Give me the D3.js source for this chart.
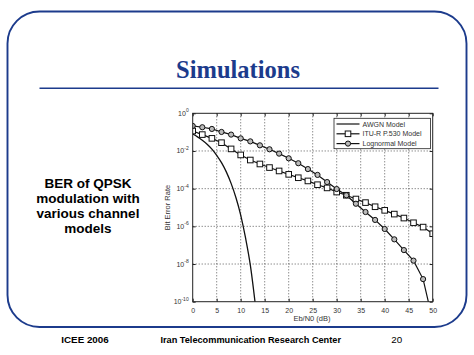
<!DOCTYPE html>
<html><head><meta charset="utf-8">
<script src="https://cdn.jsdelivr.net/npm/d3@7"></script>
<style>html,body{margin:0;padding:0;background:#fff;}svg{display:block;}</style>
</head><body>
<script>
// ---- data (log10 of BER) ----
const xTicks = [0,5,10,15,20,25,30,35,40,45,50];
const yTickExp = [0,-2,-4,-6,-8,-10];
const awgnX = [0,1,2,3,4,5,6,7,8,9,10,11,12,13];
const awgnLog = [-1.10,-1.25,-1.43,-1.64,-1.90,-2.23,-2.62,-3.11,-3.72,-4.47,-5.40,-6.60,-8.05,-10.05];
const ebX = [0,2,4,6,8,10,12,14,16,18,20,22,24,26,28,30,32,34,36,38,40,42,44,46,48,50];
const ituLog = [-0.94,-1.13,-1.33,-1.56,-1.89,-2.21,-2.48,-2.69,-2.88,-3.06,-3.24,-3.42,-3.59,-3.79,-3.96,-4.18,-4.35,-4.55,-4.74,-4.96,-5.15,-5.35,-5.56,-5.81,-6.04,-6.39];
const logn = [-0.67,-0.74,-0.83,-0.99,-1.13,-1.33,-1.49,-1.70,-1.91,-2.14,-2.39,-2.65,-2.96,-3.27,-3.65,-4.02,-4.35,-4.80,-5.24,-5.66,-6.14,-6.69,-7.26,-7.82,-8.80,-11.0];
const legendLabels = ["AWGN Model","ITU-R P.530 Model","Lognormal Model"];
const leftText = ["BER of QPSK","modulation with","various channel","models"];

const W=474,H=355;
const svg=d3.select("body").append("svg").attr("width",W).attr("height",H);
const blue="#1c3b8c";

// slide frame
svg.append("rect").attr("x",7.5).attr("y",11.5).attr("width",459).attr("height",315.5)
  .attr("rx",32).attr("ry",32).attr("fill","none").attr("stroke",blue).attr("stroke-width",1.9);
svg.append("text").attr("x",238).attr("y",78).attr("text-anchor","middle")
  .attr("font-family","Liberation Serif, Times New Roman, serif").attr("font-weight","bold")
  .attr("font-size",24.5).attr("fill",blue).text("Simulations");
svg.append("line").attr("x1",39.5).attr("x2",438.5).attr("y1",88.3).attr("y2",88.3)
  .attr("stroke",blue).attr("stroke-width",1.5);

// left text
svg.append("g").selectAll("text").data(leftText).join("text")
  .attr("x",88).attr("y",(d,i)=>188.3+i*15).attr("text-anchor","middle")
  .attr("font-family","Liberation Sans, Arial, sans-serif").attr("font-weight","bold")
  .attr("font-size",13.5).attr("fill","#000").text(d=>d);

// footer
const ff="Liberation Sans, Arial, sans-serif";
svg.append("text").attr("x",85).attr("y",343).attr("text-anchor","middle").attr("font-family",ff)
  .attr("font-weight","bold").attr("font-size",9.8).text("ICEE 2006");
svg.append("text").attr("x",250.7).attr("y",343).attr("text-anchor","middle").attr("font-family",ff)
  .attr("font-weight","bold").attr("font-size",9.2).text("Iran Telecommunication Research Center");
svg.append("text").attr("x",396.7).attr("y",343).attr("text-anchor","middle").attr("font-family",ff)
  .attr("font-size",9.8).text("20");

// plot
const L=192.7,R=432.7,T=113.3,B=301.7;
const x=d3.scaleLinear().domain([0,50]).range([L,R]);
const y=d3.scaleLinear().domain([-10,0]).range([B,T]);
const g=svg.append("g");
g.append("rect").attr("x",L).attr("y",T).attr("width",R-L).attr("height",B-T).attr("fill","#fff");

// grid
g.append("g").selectAll("line").data(xTicks.slice(1,-1)).join("line")
  .attr("x1",d=>x(d)).attr("x2",d=>x(d)).attr("y1",T).attr("y2",B)
  .attr("stroke","#333").attr("stroke-width",0.8).attr("stroke-dasharray","1,2");
g.append("g").selectAll("line").data(yTickExp.slice(1,-1)).join("line")
  .attr("y1",d=>y(d)).attr("y2",d=>y(d)).attr("x1",L).attr("x2",R)
  .attr("stroke","#333").attr("stroke-width",0.8).attr("stroke-dasharray","1,2");

// axes (inward ticks)
const axB=d3.axisBottom(x).tickValues(xTicks).tickSize(-3).tickPadding(6).tickFormat(d3.format("d"));
const axT=d3.axisTop(x).tickValues(xTicks).tickSize(-3).tickFormat("");
const axL=d3.axisLeft(y).tickValues(yTickExp).tickSize(-3).tickFormat("");
const axR=d3.axisRight(y).tickValues(yTickExp).tickSize(-3).tickFormat("");
function styleAx(sel){sel.select(".domain").remove();sel.selectAll("line").attr("stroke","#222");
  sel.selectAll("text").attr("font-family",ff).attr("font-size",7).attr("fill","#333");}
g.append("g").attr("transform",`translate(0,${B})`).call(axB).call(styleAx);
g.append("g").attr("transform",`translate(0,${T})`).call(axT).call(styleAx);
g.append("g").attr("transform",`translate(${L},0)`).call(axL).call(styleAx);
g.append("g").attr("transform",`translate(${R},0)`).call(axR).call(styleAx);

// y tick labels as 10^n
const yl=g.append("g").selectAll("text").data(yTickExp).join("text")
  .attr("x",L-4).attr("y",d=>y(d)+2.5).attr("text-anchor","end")
  .attr("font-family",ff).attr("font-size",7).attr("fill","#333");
yl.append("tspan").text("10");
yl.append("tspan").attr("dy",-3.5).attr("font-size",5).text(d=>d===0?"0":"-"+(-d));

g.append("text").attr("transform",`translate(170,${(T+B)/2}) rotate(-90)`).attr("text-anchor","middle")
  .attr("font-family",ff).attr("font-size",7.5).attr("fill","#333").text("Bit Error Rate");
g.append("text").attr("x",312).attr("y",320.5).attr("text-anchor","middle")
  .attr("font-family",ff).attr("font-size",7.5).attr("fill","#333").text("Eb/N0 (dB)");

// clip
svg.append("clipPath").attr("id","cp").append("rect").attr("x",L).attr("y",T).attr("width",R-L).attr("height",B-T);
const pg=g.append("g").attr("clip-path","url(#cp)");
const line=d3.line().x(d=>x(d[0])).y(d=>y(d[1]));
const awgn=awgnX.map((v,i)=>[v,awgnLog[i]]);
const itu=ebX.map((v,i)=>[v,ituLog[i]]);
const lgn=ebX.map((v,i)=>[v,logn[i]]);
pg.append("path").datum(awgn).attr("d",line.curve(d3.curveMonotoneX)).attr("fill","none").attr("stroke","#111").attr("stroke-width",1.3);
const lin=d3.line().x(d=>x(d[0])).y(d=>y(d[1]));
pg.append("path").datum(itu).attr("d",lin).attr("fill","none").attr("stroke","#111").attr("stroke-width",1.2);
pg.append("path").datum(lgn).attr("d",lin).attr("fill","none").attr("stroke","#111").attr("stroke-width",1.2);
pg.append("g").selectAll("rect").data(itu).join("rect")
  .attr("x",d=>x(d[0])-2.8).attr("y",d=>y(d[1])-2.8).attr("width",5.6).attr("height",5.6)
  .attr("fill","#fff").attr("stroke","#111").attr("stroke-width",1);
pg.append("g").selectAll("circle").data(lgn.filter(d=>d[1]>=-10)).join("circle")
  .attr("cx",d=>x(d[0])).attr("cy",d=>y(d[1])).attr("r",2.6)
  .attr("fill","#bbb").attr("stroke","#111").attr("stroke-width",1);

// plot border
g.append("rect").attr("x",L).attr("y",T).attr("width",R-L).attr("height",B-T)
  .attr("fill","none").attr("stroke","#222").attr("stroke-width",1);

// legend
const lg=g.append("g");
lg.append("rect").attr("x",334).attr("y",118.3).attr("width",96.5).attr("height",30.4)
  .attr("fill","#fff").attr("stroke","#222").attr("stroke-width",0.8);
legendLabels.forEach((t,i)=>{
  const yy=124+i*9.8;
  lg.append("line").attr("x1",336.5).attr("x2",359.5).attr("y1",yy).attr("y2",yy).attr("stroke","#111").attr("stroke-width",1.2);
  if(i===1) lg.append("rect").attr("x",345.2).attr("y",yy-2.8).attr("width",5.6).attr("height",5.6).attr("fill","#fff").attr("stroke","#111");
  if(i===2) lg.append("circle").attr("cx",348).attr("cy",yy).attr("r",2.6).attr("fill","#bbb").attr("stroke","#111");
  lg.append("text").attr("x",362.5).attr("y",yy+2.5).attr("font-family",ff).attr("font-size",7).attr("fill","#333").text(t);
});
</script>
</body></html>
